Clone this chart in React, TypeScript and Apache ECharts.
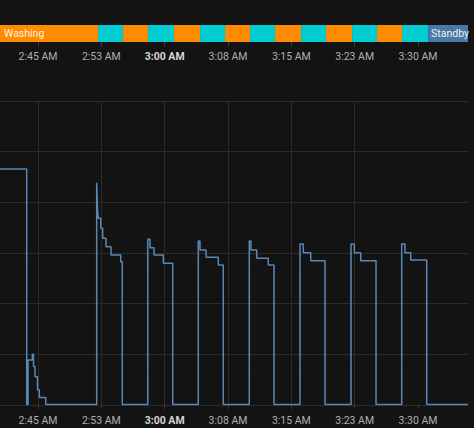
import React, { useEffect, useRef } from 'react';
import * as echarts from 'echarts';

// x values are minutes after 2:45 AM
const tickValues = [0, 7.5, 15, 22.5, 30, 37.5, 45];
const tickLabels = ['2:45 AM', '2:53 AM', '3:00 AM', '3:08 AM', '3:15 AM', '3:23 AM', '3:30 AM'];
const boldTick = '3:00 AM';
const X_MIN = -7.5;
const X_MAX = 50.92;

// Timeline (state bar)
const timelineStates = [
  'Washing', 'Rinsing', 'Washing', 'Rinsing', 'Washing', 'Rinsing', 'Washing', 'Rinsing',
  'Washing', 'Rinsing', 'Washing', 'Rinsing', 'Washing', 'Rinsing', 'Standby',
];
const timelineStarts = [-7.5, 7.11, 10.07, 13.03, 16.11, 19.19, 22.15, 25.11, 28.07, 31.15, 34.11, 37.19, 40.15, 43.11, 46.19];
const timelineEnds = [7.11, 10.07, 13.03, 16.11, 19.19, 22.15, 25.11, 28.07, 31.15, 34.11, 37.19, 40.15, 43.11, 46.19, 50.92];
const stateColors: Record<string, string> = {
  Washing: '#ff8c00',
  Rinsing: '#00cdd2',
  Standby: '#4a78a8',
};

// Power history (W), step line
const powerTimes = [
  -7.5, -1.34, -1.18, -0.675, -0.53, -0.355, -0.06, 0.154, 0.91,
  6.95, 7.02, 7.07, 7.14, 7.43, 7.66, 8.05, 8.65, 9.79, 9.98,
  13.0, 13.26, 13.74, 14.84, 15.95,
  18.98, 19.18, 19.9, 21.35, 21.94,
  25.02, 25.22, 25.9, 27.27, 27.95,
  31.03, 31.42, 32.3, 33.99,
  37.07, 37.46, 38.22, 40.03,
  43.07, 43.46, 44.14, 46.03,
  50.92,
];
const powerValues = [
  2330, 5, 444, 500, 380, 280, 150, 75, 5,
  2194, 2000, 1900, 1842, 1744, 1645, 1562, 1480, 1414, 5,
  1635, 1552, 1480, 1398, 5,
  1618, 1530, 1457, 1382, 5,
  1618, 1530, 1448, 1382, 5,
  1589, 1503, 1424, 5,
  1589, 1503, 1424, 5,
  1589, 1503, 1431, 5,
  5,
];

const FONT = 'Roboto';

function labelFor(v: number): string {
  const i = tickValues.findIndex((t) => Math.abs(t - v) < 1e-6);
  if (i < 0) return '';
  const s = tickLabels[i];
  return s === boldTick ? `{b|${s}}` : s;
}

export default function App() {
  const ref = useRef<HTMLDivElement>(null);

  useEffect(() => {
    if (!ref.current) return;
    const chart = echarts.init(ref.current, undefined, { renderer: 'svg' });

    const axisLabel = {
      color: '#b0b0b0',
      fontSize: 10.5,
      fontFamily: FONT,
      margin: 9,
      showMaxLabel: false,
      formatter: (v: number) => labelFor(v),
      rich: { b: { fontWeight: 'bold', color: '#d6d6d6', fontSize: 10.5, fontFamily: FONT } },
    };

    const timelineData = timelineStates.map((s, i) => [timelineStarts[i], timelineEnds[i], i]);

    chart.setOption({
      animation: false,
      backgroundColor: '#131313',
      textStyle: { fontFamily: FONT },
      grid: [
        { left: -25.33, right: 6, top: 25, height: 17, outerBoundsMode: 'none', containLabel: false },
        { left: -25.33, right: 6, top: 101, bottom: 23, outerBoundsMode: 'none', containLabel: false },
      ],
      xAxis: [
        {
          type: 'value', gridIndex: 0, min: X_MIN, max: X_MAX, interval: 7.5,
          axisLine: { show: false },
          axisTick: { show: true, length: 5, lineStyle: { color: '#3a3a3a' }, customValues: tickValues },
          splitLine: { show: false },
          axisLabel,
        },
        {
          type: 'value', gridIndex: 1, min: X_MIN, max: X_MAX, interval: 7.5,
          axisLine: { show: false },
          axisTick: { show: true, length: 4, lineStyle: { color: '#3a3a3a' }, customValues: tickValues },
          splitLine: { show: true, showMaxLine: false, lineStyle: { color: '#2b2b2b', width: 1 } },
          axisLabel: { ...axisLabel, margin: 10 },
        },
      ],
      yAxis: [
        { type: 'value', gridIndex: 0, min: 0, max: 1, show: false },
        {
          type: 'value', gridIndex: 1, min: 0, max: 3000, interval: 500,
          axisLabel: { show: false }, axisLine: { show: false }, axisTick: { show: false },
          splitLine: { show: true, lineStyle: { color: '#2b2b2b', width: 1 } },
        },
      ],
      series: [
        {
          type: 'custom',
          xAxisIndex: 0, yAxisIndex: 0,
          data: timelineData,
          renderItem: (params: any, api: any) => {
            const s = api.value(0);
            const e = api.value(1);
            const idx = params.dataIndex;
            const state = timelineStates[idx];
            const p0 = api.coord([s, 1]);
            const p1 = api.coord([e, 0]);
            const w = p1[0] - p0[0];
            const h = p1[1] - p0[1];
            const children: any[] = [
              { type: 'rect', shape: { x: p0[0], y: p0[1], width: w, height: h }, style: { fill: stateColors[state] } },
            ];
            if (w > 38) {
              children.push({
                type: 'text',
                style: {
                  text: state,
                  x: Math.max(p0[0], 1) + 3,
                  y: p0[1] + h / 2,
                  fill: 'rgba(255,255,255,0.92)',
                  font: `10.5px ${FONT}`,
                  verticalAlign: 'middle',
                  align: 'left',
                },
              });
            }
            return { type: 'group', children };
          },
        },
        {
          type: 'line',
          xAxisIndex: 1, yAxisIndex: 1,
          step: 'end',
          showSymbol: false,
          lineStyle: { color: '#5a88b5', width: 1.5 },
          data: powerTimes.map((t, i) => [t, powerValues[i]]),
        },
      ],
    });

    return () => chart.dispose();
  }, []);

  return (
    <div style={{ position: 'fixed', left: 0, top: 0, width: 474, height: 428, background: '#131313' }}>
      <div ref={ref} style={{ width: 474, height: 428 }} />
    </div>
  );
}
